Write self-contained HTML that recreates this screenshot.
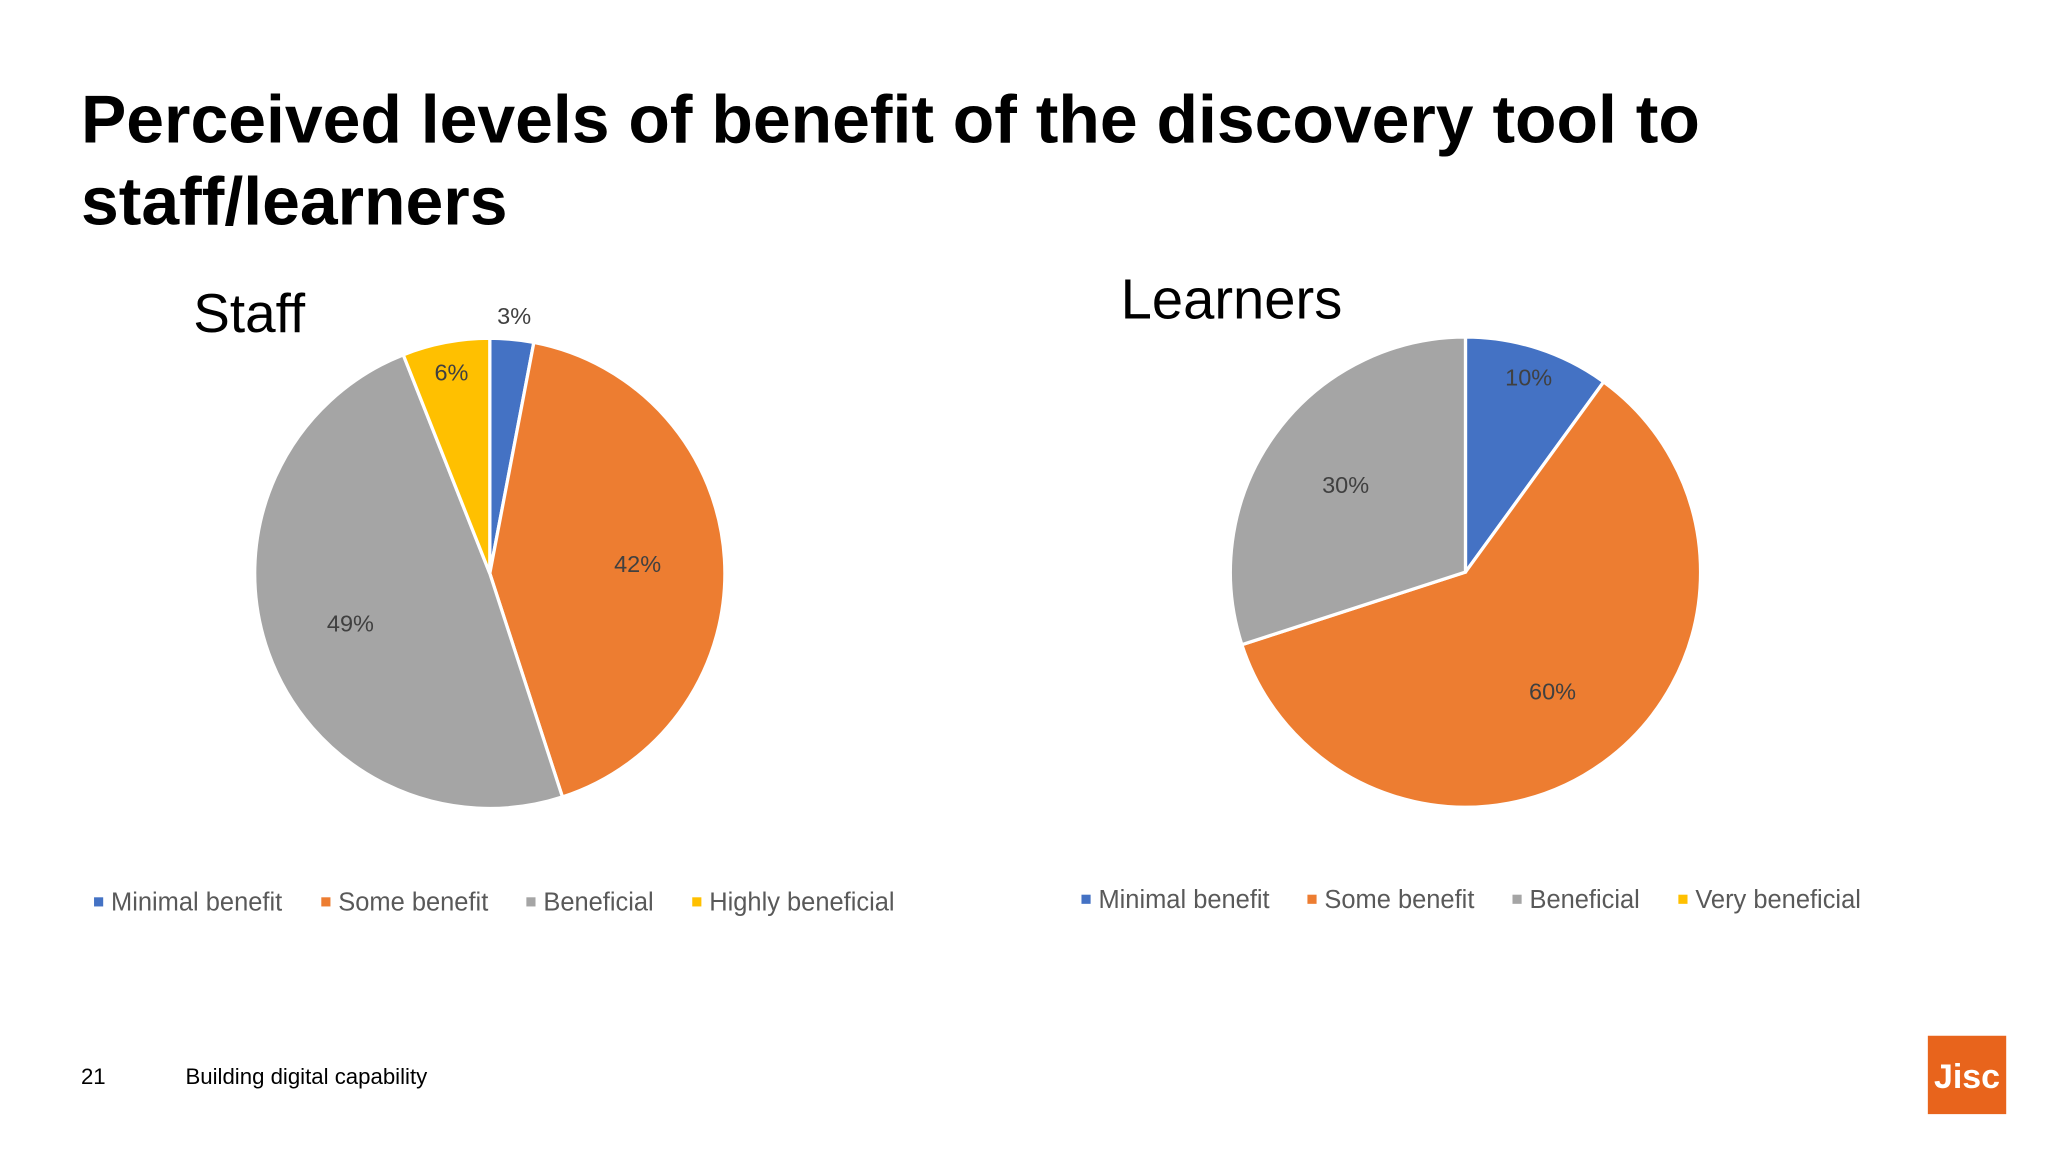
<!DOCTYPE html>
<html><head><meta charset="utf-8"><style>
html,body{margin:0;padding:0;background:#fff;}
svg{display:block;font-family:"Liberation Sans",Arial,sans-serif;}
</style></head><body>
<svg id="s" width="2048" height="1152" viewBox="0 0 1568 882">
<rect width="1568" height="882" fill="#fff"/>
<text x="62" y="109" font-size="52" font-weight="bold" fill="#000">Perceived levels of benefit of the discovery tool to</text>
<text x="62" y="172" font-size="52" font-weight="bold" fill="#000">staff/learners</text>
<text x="148" y="254" font-size="42" fill="#000">Staff</text>
<text x="858" y="244" font-size="43" fill="#000">Learners</text>
<g id="staff"></g>
<g id="learn"></g>
<g id="leg1"></g>
<g id="leg2"></g>
<text x="62" y="830" font-size="17" fill="#000">21</text>
<text x="142" y="830" font-size="17" fill="#000">Building digital capability</text>
<rect x="1476" y="793" width="60" height="60" fill="#e8641c"/>
<text x="1506" y="833" font-size="26" font-weight="bold" fill="#fff" text-anchor="middle">Jisc</text>
</svg>
<script>
const colors=["#4472c4","#ed7d31","#a5a5a5","#ffc000"];
const staffCategories=["Minimal benefit","Some benefit","Beneficial","Highly beneficial"];
const staffValues=[3,42,49,6];
const learnerCategories=["Minimal benefit","Some benefit","Beneficial","Very beneficial"];
const learnerValues=[10,60,30,0];
const NS="http://www.w3.org/2000/svg";
function mk(t,a,p){const e=document.createElementNS(NS,t);for(const k in a)e.setAttribute(k,a[k]);p.appendChild(e);return e;}
function pie(g,vals,cx,cy,r){
  const tot=vals.reduce((a,b)=>a+b,0);let acc=0;
  vals.forEach((v,i)=>{
    if(v<=0)return;
    const a0=acc/tot*2*Math.PI;acc+=v;const a1=acc/tot*2*Math.PI;
    const x0=cx+r*Math.sin(a0),y0=cy-r*Math.cos(a0),x1=cx+r*Math.sin(a1),y1=cy-r*Math.cos(a1);
    const p=mk("path",{d:`M${cx},${cy}L${x0},${y0}A${r},${r} 0 ${a1-a0>Math.PI?1:0} 1 ${x1},${y1}Z`,fill:colors[i],stroke:"#fff","stroke-width":2.5},g);
    
    
    const am=(a0+a1)/2;const pct=v/tot*100;const f=pct<5?1.1:pct<=10?0.87:0.63;
    const t=mk("text",{x:cx+f*r*Math.sin(am),y:cy-f*r*Math.cos(am)+6,"font-size":18,fill:"#404040","text-anchor":"middle"},g);
    
    
    t.textContent=Math.round(pct)+"%";
  });
}
function legend(g,cats,x,y,gaps){
  let cx=x;
  cats.forEach((c,i)=>{
    const r=mk("rect",{x:cx,y:y-11,width:7,height:7,fill:colors[i]},g);
    
    
    const t=mk("text",{x:cx+13,y:y-1,"font-size":19.5,fill:"#595959"},g);
    
    
    t.textContent=c;
    cx+=gaps[i];
  });
}
pie(document.getElementById("staff"),staffValues,375,439,180);
pie(document.getElementById("learn"),learnerValues,1122,438,180);
legend(document.getElementById("leg1"),staffCategories,72,698,[174,157,127,0]);
legend(document.getElementById("leg2"),learnerCategories,828,696,[173,157,127,0]);
</script>
</body></html>
